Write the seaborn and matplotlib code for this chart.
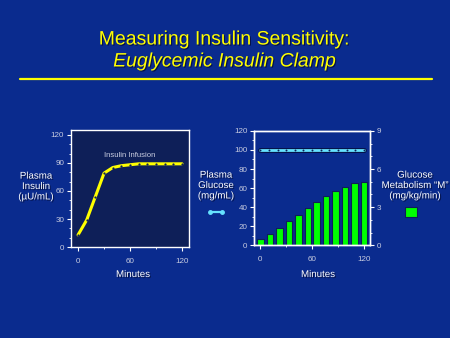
import numpy as np
import pandas as pd
import matplotlib
matplotlib.use("Agg")
import matplotlib.pyplot as plt
import matplotlib.patheffects as pe
from matplotlib.lines import Line2D
from matplotlib.patches import Rectangle
from matplotlib.ticker import MultipleLocator
import seaborn as sns

# ---- data ----
insulin_minutes = [0, 10, 20, 30, 40, 50, 60, 70, 80, 90, 100, 110, 120]
insulin_values = [13, 29, 54, 79, 85, 87, 88, 89, 89, 89, 89, 89, 89]

glucose_minutes = [0, 10, 20, 30, 40, 50, 60, 70, 80, 90, 100, 110, 120]
glucose_values = [100, 100, 100, 100, 100, 100, 100, 100, 100, 100, 100, 100, 100]

m_minutes = [0, 11, 22, 33, 44, 55, 65, 76, 87, 98, 109, 120]
m_values = [0.5, 0.9, 1.4, 1.9, 2.4, 2.9, 3.4, 3.9, 4.3, 4.6, 4.9, 4.95]

x_ticks = [0, 60, 120]
insulin_ticks = [0, 30, 60, 90, 120]
glucose_ticks = [0, 20, 40, 60, 80, 100, 120]
m_ticks = [0, 3, 6, 9]

BG = "#0A2B8E"
FACE = "#0E1F58"
YEL = "#FFFF00"
CYAN = "#66E2FF"
GREEN = "#00FF00"
TICKC = "#C8CCE0"
SHADOW = "#051040"

sns.set_theme(style="ticks")
plt.rcParams["font.family"] = ["Liberation Sans", "DejaVu Sans"]

fig = plt.figure(figsize=(4.5, 3.38), dpi=100, facecolor=BG)

def style_ax(ax):
    ax.set_facecolor(FACE)
    for s in ax.spines.values():
        s.set_color("white")
        s.set_linewidth(1.0)
    ax.tick_params(axis="both", colors="white", labelcolor=TICKC, labelsize=5.8,
                   direction="out", length=3, width=0.8)
    ax.tick_params(axis="x", pad=5)
    ax.tick_params(axis="y", pad=2)
    ax.tick_params(which="minor", colors="white", length=1.5, width=0.6)
    ax.set_xlabel("")
    ax.set_ylabel("")

# ---- left panel ----
ax1 = fig.add_axes([0.158, 0.269, 0.262, 0.346])
df1 = pd.DataFrame({"t": insulin_minutes, "v": insulin_values})
sns.lineplot(data=df1, x="t", y="v", ax=ax1, color=YEL, lw=2.2,
             marker="o", markersize=1.6, markerfacecolor=FACE, markeredgewidth=0)
ax1.set_xlim(-8, 128)
ax1.set_ylim(0, 125)
ax1.set_xticks(x_ticks)
ax1.xaxis.set_minor_locator(MultipleLocator(30))
ax1.set_yticks(insulin_ticks)
ax1.yaxis.set_minor_locator(MultipleLocator(10))
style_ax(ax1)
ax1.text(60, 98, "Insulin Infusion", color=TICKC, fontsize=5.6, ha="center", va="center")

# ---- right panel ----
ax2 = fig.add_axes([0.565, 0.274, 0.257, 0.339])
ax3 = ax2.twinx()
df3 = pd.DataFrame({"t": m_minutes, "v": m_values})
sns.barplot(data=df3, x="t", y="v", ax=ax3, native_scale=True, color=GREEN,
            saturation=1, width=0.75, edgecolor=FACE, linewidth=0.8)
df2 = pd.DataFrame({"t": glucose_minutes, "v": glucose_values})
sns.lineplot(data=df2, x="t", y="v", ax=ax2, color=SHADOW, lw=3.4)
sns.lineplot(data=df2, x="t", y="v", ax=ax2, color=CYAN, lw=2.0,
             marker="o", markersize=1.4, markerfacecolor=FACE, markeredgewidth=0)
ax2.set_zorder(ax3.get_zorder() + 1)
ax2.patch.set_visible(False)
ax2.set_xlim(-7, 127)
ax2.set_ylim(0, 120)
ax3.set_ylim(0, 9)
ax2.set_xticks(x_ticks)
ax2.xaxis.set_minor_locator(MultipleLocator(30))
ax2.set_yticks(glucose_ticks)
ax2.yaxis.set_minor_locator(MultipleLocator(10))
ax3.set_yticks(m_ticks)
ax3.yaxis.set_minor_locator(MultipleLocator(1))
style_ax(ax2)
style_ax(ax3)
ax3.patch.set_facecolor(FACE)

# ---- text ----
shadow = [pe.withSimplePatchShadow(offset=(0.8, -0.8), shadow_rgbFace=SHADOW, alpha=0.9)]
fig.text(0.5, 1 - 40 / 338, "Measuring Insulin Sensitivity:", color=YEL, fontsize=14,
         ha="center", va="center", path_effects=shadow)
fig.text(0.5, 1 - 62 / 338, "Euglycemic Insulin Clamp", color=YEL, fontsize=14,
         ha="center", va="center", style="italic", path_effects=shadow)
fig.add_artist(Line2D([20 / 450, 432 / 450], [1 - 79 / 338, 1 - 79 / 338],
                      color=YEL, lw=1.6, transform=fig.transFigure))

lab = dict(color="white", fontsize=7, ha="center", va="center", linespacing=1.05,
           path_effects=shadow)
fig.text(36 / 450, 1 - 186 / 338, "Plasma\nInsulin\n(\u00b5U/mL)", **lab)
fig.text(133 / 450, 1 - 274 / 338, "Minutes", **lab)
fig.text(318 / 450, 1 - 274 / 338, "Minutes", **lab)
fig.text(216 / 450, 1 - 185 / 338, "Plasma\nGlucose\n(mg/mL)", **lab)
fig.text(415 / 450, 1 - 185 / 338, "Glucose\nMetabolism \u201cM\u201d\n(mg/kg/min)", **lab)

# legend icons
fig.add_artist(Line2D([210 / 450, 222 / 450], [1 - 212 / 338, 1 - 212 / 338],
                      color=CYAN, lw=1.6, marker="o", markersize=2.5,
                      transform=fig.transFigure))
fig.add_artist(Rectangle((405 / 450, 1 - 217 / 338), 12 / 450, 10 / 338,
                         facecolor=GREEN, edgecolor=FACE, lw=0.8,
                         transform=fig.transFigure))

fig.savefig("out.png", dpi=100, facecolor=BG)
